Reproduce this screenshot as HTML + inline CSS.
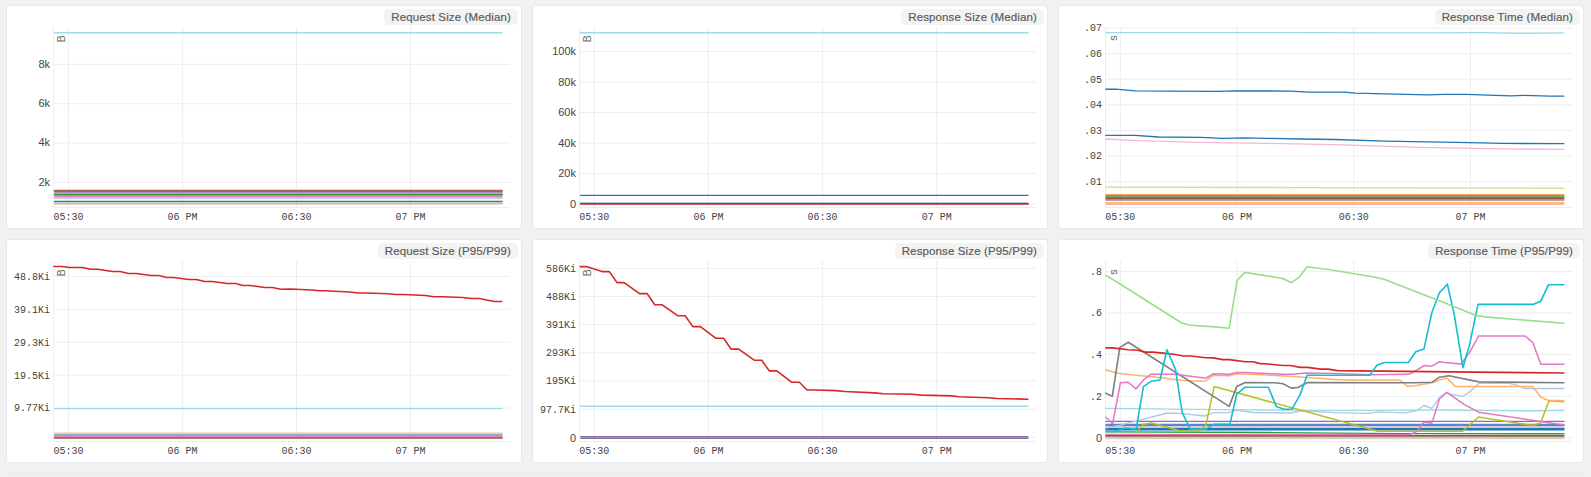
<!DOCTYPE html><html><head><meta charset="utf-8"><style>html,body{margin:0;padding:0;background:#f1f1f1;width:1591px;height:477px;overflow:hidden}.p{position:absolute;box-sizing:border-box;background:#fff;border:1px solid #e4e9f1;border-radius:3px}.t{position:absolute;height:16px;background:#f3f3f3;border-radius:5px;color:#5c5c5c;font:11.5px "Liberation Sans", sans-serif;line-height:16px;letter-spacing:0.13px;-webkit-text-stroke:0.2px #5c5c5c;padding:0 7px 0 7px;white-space:nowrap}svg{position:absolute;left:0;top:0}</style></head><body>
<div class="p" style="left:6px;top:5px;width:516px;height:224px"></div>
<div class="t" style="right:1073px;top:9px">Request Size (Median)</div>
<div class="p" style="left:532px;top:5px;width:516px;height:224px"></div>
<div class="t" style="right:547px;top:9px">Response Size (Median)</div>
<div class="p" style="left:1058px;top:5px;width:526px;height:224px"></div>
<div class="t" style="right:11px;top:9px">Response Time (Median)</div>
<div class="p" style="left:6px;top:239px;width:516px;height:224px"></div>
<div class="t" style="right:1073px;top:243px">Request Size (P95/P99)</div>
<div class="p" style="left:532px;top:239px;width:516px;height:224px"></div>
<div class="t" style="right:547px;top:243px">Response Size (P95/P99)</div>
<div class="p" style="left:1058px;top:239px;width:526px;height:224px"></div>
<div class="t" style="right:11px;top:243px">Response Time (P95/P99)</div>
<svg width="1591" height="477" viewBox="0 0 1591 477"><g stroke="#ededed" stroke-width="1"><line x1="53.5" y1="64.4" x2="510.0" y2="64.4"/><line x1="53.5" y1="103.7" x2="510.0" y2="103.7"/><line x1="53.5" y1="143.0" x2="510.0" y2="143.0"/><line x1="53.5" y1="182.4" x2="510.0" y2="182.4"/><line x1="53.5" y1="207.5" x2="510.0" y2="207.5"/><line x1="53.5" y1="27.0" x2="53.5" y2="207.5"/><line x1="68.6" y1="27.0" x2="68.6" y2="207.5"/><line x1="182.6" y1="27.0" x2="182.6" y2="207.5"/><line x1="296.5" y1="27.0" x2="296.5" y2="207.5"/><line x1="410.5" y1="27.0" x2="410.5" y2="207.5"/></g><text x="50.0" y="63.8" text-anchor="end" font-family='"Liberation Sans", sans-serif' font-size="11" fill="#444" dominant-baseline="central">8k</text><text x="50.0" y="103.1" text-anchor="end" font-family='"Liberation Sans", sans-serif' font-size="11" fill="#444" dominant-baseline="central">6k</text><text x="50.0" y="142.4" text-anchor="end" font-family='"Liberation Sans", sans-serif' font-size="11" fill="#444" dominant-baseline="central">4k</text><text x="50.0" y="181.8" text-anchor="end" font-family='"Liberation Sans", sans-serif' font-size="11" fill="#444" dominant-baseline="central">2k</text><text x="68.6" y="220.0" text-anchor="middle" font-family='"Liberation Mono", monospace' font-size="10" fill="#444">05:30</text><text x="182.6" y="220.0" text-anchor="middle" font-family='"Liberation Mono", monospace' font-size="10" fill="#444">06 PM</text><text x="296.5" y="220.0" text-anchor="middle" font-family='"Liberation Mono", monospace' font-size="10" fill="#444">06:30</text><text x="410.5" y="220.0" text-anchor="middle" font-family='"Liberation Mono", monospace' font-size="10" fill="#444">07 PM</text><polyline fill="none" stroke="#9edae5" stroke-width="1.44" stroke-linejoin="round" stroke-linecap="round" points="54.7,32.8 502.0,32.8"/><polyline fill="none" stroke="#a0665a" stroke-width="2.07" stroke-linejoin="round" stroke-linecap="round" points="54.7,190.9 502.0,190.9"/><polyline fill="none" stroke="#9467bd" stroke-width="1.44" stroke-linejoin="round" stroke-linecap="round" points="54.7,192.9 502.0,192.9"/><polyline fill="none" stroke="#2ca02c" stroke-width="1.89" stroke-linejoin="round" stroke-linecap="round" points="54.7,194.8 502.0,194.8"/><polyline fill="none" stroke="#e88acb" stroke-width="1.08" stroke-linejoin="round" stroke-linecap="round" points="54.7,196.4 502.0,196.4"/><polyline fill="none" stroke="#bdbdbd" stroke-width="1.17" stroke-linejoin="round" stroke-linecap="round" points="54.7,197.6 502.0,197.6"/><polyline fill="none" stroke="#cbbde0" stroke-width="0.81" stroke-linejoin="round" stroke-linecap="round" points="54.7,198.7 502.0,198.7"/><polyline fill="none" stroke="#1f77b4" stroke-width="1.53" stroke-linejoin="round" stroke-linecap="round" points="54.7,201.5 502.0,201.5"/><polyline fill="none" stroke="#d5b893" stroke-width="1.89" stroke-linejoin="round" stroke-linecap="round" points="54.7,203.6 502.0,203.6"/><text x="0" y="0" transform="translate(65.1,35.2) rotate(-90)" text-anchor="end" font-family='"Liberation Sans", sans-serif' font-size="11" fill="#6a6a6a">B</text><g stroke="#ededed" stroke-width="1"><line x1="579.5" y1="51.6" x2="1036.0" y2="51.6"/><line x1="579.5" y1="82.1" x2="1036.0" y2="82.1"/><line x1="579.5" y1="112.6" x2="1036.0" y2="112.6"/><line x1="579.5" y1="143.1" x2="1036.0" y2="143.1"/><line x1="579.5" y1="173.6" x2="1036.0" y2="173.6"/><line x1="579.5" y1="204.1" x2="1036.0" y2="204.1"/><line x1="579.5" y1="207.5" x2="1036.0" y2="207.5"/><line x1="579.5" y1="27.0" x2="579.5" y2="207.5"/><line x1="594.3" y1="27.0" x2="594.3" y2="207.5"/><line x1="708.4" y1="27.0" x2="708.4" y2="207.5"/><line x1="822.6" y1="27.0" x2="822.6" y2="207.5"/><line x1="936.7" y1="27.0" x2="936.7" y2="207.5"/></g><text x="576.0" y="51.0" text-anchor="end" font-family='"Liberation Sans", sans-serif' font-size="11" fill="#444" dominant-baseline="central">100k</text><text x="576.0" y="81.5" text-anchor="end" font-family='"Liberation Sans", sans-serif' font-size="11" fill="#444" dominant-baseline="central">80k</text><text x="576.0" y="112.0" text-anchor="end" font-family='"Liberation Sans", sans-serif' font-size="11" fill="#444" dominant-baseline="central">60k</text><text x="576.0" y="142.5" text-anchor="end" font-family='"Liberation Sans", sans-serif' font-size="11" fill="#444" dominant-baseline="central">40k</text><text x="576.0" y="173.0" text-anchor="end" font-family='"Liberation Sans", sans-serif' font-size="11" fill="#444" dominant-baseline="central">20k</text><text x="576.0" y="203.5" text-anchor="end" font-family='"Liberation Sans", sans-serif' font-size="11" fill="#444" dominant-baseline="central">0</text><text x="594.3" y="220.0" text-anchor="middle" font-family='"Liberation Mono", monospace' font-size="10" fill="#444">05:30</text><text x="708.4" y="220.0" text-anchor="middle" font-family='"Liberation Mono", monospace' font-size="10" fill="#444">06 PM</text><text x="822.6" y="220.0" text-anchor="middle" font-family='"Liberation Mono", monospace' font-size="10" fill="#444">06:30</text><text x="936.7" y="220.0" text-anchor="middle" font-family='"Liberation Mono", monospace' font-size="10" fill="#444">07 PM</text><polyline fill="none" stroke="#9edae5" stroke-width="1.44" stroke-linejoin="round" stroke-linecap="round" points="580.7,32.8 1028.0,32.8"/><polyline fill="none" stroke="#1f77b4" stroke-width="1.44" stroke-linejoin="round" stroke-linecap="round" points="580.7,195.4 1028.0,195.4"/><polyline fill="none" stroke="#aec7e8" stroke-width="1.08" stroke-linejoin="round" stroke-linecap="round" points="580.7,202.6 1028.0,202.6"/><polyline fill="none" stroke="#c62a2a" stroke-width="1.8" stroke-linejoin="round" stroke-linecap="round" points="580.7,203.9 1028.0,203.9"/><text x="0" y="0" transform="translate(591.1,35.2) rotate(-90)" text-anchor="end" font-family='"Liberation Sans", sans-serif' font-size="11" fill="#6a6a6a">B</text><g stroke="#ededed" stroke-width="1"><line x1="1105.5" y1="28.0" x2="1572.0" y2="28.0"/><line x1="1105.5" y1="53.6" x2="1572.0" y2="53.6"/><line x1="1105.5" y1="79.2" x2="1572.0" y2="79.2"/><line x1="1105.5" y1="104.8" x2="1572.0" y2="104.8"/><line x1="1105.5" y1="130.4" x2="1572.0" y2="130.4"/><line x1="1105.5" y1="156.0" x2="1572.0" y2="156.0"/><line x1="1105.5" y1="181.6" x2="1572.0" y2="181.6"/><line x1="1105.5" y1="207.5" x2="1572.0" y2="207.5"/><line x1="1105.5" y1="27.0" x2="1105.5" y2="207.5"/><line x1="1120.3" y1="27.0" x2="1120.3" y2="207.5"/><line x1="1237.0" y1="27.0" x2="1237.0" y2="207.5"/><line x1="1353.8" y1="27.0" x2="1353.8" y2="207.5"/><line x1="1470.5" y1="27.0" x2="1470.5" y2="207.5"/></g><text x="1102.0" y="28.9" text-anchor="end" font-family='"Liberation Mono", monospace' font-size="10" fill="#444" dominant-baseline="central">.07</text><text x="1102.0" y="54.5" text-anchor="end" font-family='"Liberation Mono", monospace' font-size="10" fill="#444" dominant-baseline="central">.06</text><text x="1102.0" y="80.1" text-anchor="end" font-family='"Liberation Mono", monospace' font-size="10" fill="#444" dominant-baseline="central">.05</text><text x="1102.0" y="105.7" text-anchor="end" font-family='"Liberation Mono", monospace' font-size="10" fill="#444" dominant-baseline="central">.04</text><text x="1102.0" y="131.3" text-anchor="end" font-family='"Liberation Mono", monospace' font-size="10" fill="#444" dominant-baseline="central">.03</text><text x="1102.0" y="156.9" text-anchor="end" font-family='"Liberation Mono", monospace' font-size="10" fill="#444" dominant-baseline="central">.02</text><text x="1102.0" y="182.5" text-anchor="end" font-family='"Liberation Mono", monospace' font-size="10" fill="#444" dominant-baseline="central">.01</text><text x="1120.3" y="220.0" text-anchor="middle" font-family='"Liberation Mono", monospace' font-size="10" fill="#444">05:30</text><text x="1237.0" y="220.0" text-anchor="middle" font-family='"Liberation Mono", monospace' font-size="10" fill="#444">06 PM</text><text x="1353.8" y="220.0" text-anchor="middle" font-family='"Liberation Mono", monospace' font-size="10" fill="#444">06:30</text><text x="1470.5" y="220.0" text-anchor="middle" font-family='"Liberation Mono", monospace' font-size="10" fill="#444">07 PM</text><polyline fill="none" stroke="#9edae5" stroke-width="1.44" stroke-linejoin="round" stroke-linecap="round" points="1106.0,32.6 1300.0,32.6 1420.0,32.9 1480.0,32.6 1520.0,33.2 1563.9,32.9"/><polyline fill="none" stroke="#dbdb8d" stroke-width="1.35" stroke-linejoin="round" stroke-linecap="round" points="1106.0,187.1 1300.0,187.6 1563.9,188.2"/><polyline fill="none" stroke="#ff7f0e" stroke-width="1.44" stroke-linejoin="round" stroke-linecap="round" points="1106.0,195.0 1563.9,195.0"/><polyline fill="none" stroke="#2ca02c" stroke-width="1.17" stroke-linejoin="round" stroke-linecap="round" points="1106.0,196.2 1563.9,196.2"/><polyline fill="none" stroke="#9467bd" stroke-width="1.08" stroke-linejoin="round" stroke-linecap="round" points="1106.0,197.4 1563.9,197.4"/><polyline fill="none" stroke="#8c564b" stroke-width="1.44" stroke-linejoin="round" stroke-linecap="round" points="1106.0,198.6 1563.9,198.6"/><polyline fill="none" stroke="#a0766c" stroke-width="1.26" stroke-linejoin="round" stroke-linecap="round" points="1106.0,199.8 1563.9,199.8"/><polyline fill="none" stroke="#c49c94" stroke-width="0.9" stroke-linejoin="round" stroke-linecap="round" points="1106.0,200.6 1563.9,200.6"/><polyline fill="none" stroke="#ffbb78" stroke-width="1.35" stroke-linejoin="round" stroke-linecap="round" points="1106.0,202.6 1563.9,202.6"/><polyline fill="none" stroke="#ffa07a" stroke-width="1.35" stroke-linejoin="round" stroke-linecap="round" points="1106.0,204.0 1563.9,204.0"/><polyline fill="none" stroke="#1f77b4" stroke-width="1.35" stroke-linejoin="round" stroke-linecap="round" points="1105.9,89.2 1115.9,89.2 1135.2,90.9 1170.4,91.1 1217.4,91.4 1234.2,90.9 1291.2,91.1 1308.0,92.1 1345.1,92.1 1355.1,93.1 1385.3,93.8 1427.2,94.8 1444.0,94.4 1465.8,94.4 1511.1,95.8 1524.5,95.4 1549.7,96.1 1563.9,96.1"/><polyline fill="none" stroke="#1f77b4" stroke-width="1.35" stroke-linejoin="round" stroke-linecap="round" points="1105.9,135.3 1135.2,135.3 1158.7,137.0 1200.6,137.4 1222.4,138.4 1242.6,137.9 1267.7,138.4 1301.3,139.0 1335.0,139.5 1385.3,141.2 1469.2,142.7 1502.7,143.4 1563.9,143.7"/><polyline fill="none" stroke="#f7b6d2" stroke-width="1.35" stroke-linejoin="round" stroke-linecap="round" points="1105.9,139.0 1136.9,140.7 1200.6,142.4 1267.7,143.4 1335.0,144.6 1418.9,147.4 1502.7,148.8 1563.9,149.4"/><text x="0" y="0" transform="translate(1117.1,35.2) rotate(-90)" text-anchor="end" font-family='"Liberation Sans", sans-serif' font-size="11" fill="#6a6a6a">s</text><g stroke="#ededed" stroke-width="1"><line x1="53.5" y1="276.4" x2="510.0" y2="276.4"/><line x1="53.5" y1="309.3" x2="510.0" y2="309.3"/><line x1="53.5" y1="342.2" x2="510.0" y2="342.2"/><line x1="53.5" y1="375.1" x2="510.0" y2="375.1"/><line x1="53.5" y1="408.0" x2="510.0" y2="408.0"/><line x1="53.5" y1="441.5" x2="510.0" y2="441.5"/><line x1="53.5" y1="261.0" x2="53.5" y2="441.5"/><line x1="68.6" y1="261.0" x2="68.6" y2="441.5"/><line x1="182.6" y1="261.0" x2="182.6" y2="441.5"/><line x1="296.5" y1="261.0" x2="296.5" y2="441.5"/><line x1="410.5" y1="261.0" x2="410.5" y2="441.5"/></g><text x="50.0" y="277.3" text-anchor="end" font-family='"Liberation Mono", monospace' font-size="10" fill="#444" dominant-baseline="central">48.8Ki</text><text x="50.0" y="310.2" text-anchor="end" font-family='"Liberation Mono", monospace' font-size="10" fill="#444" dominant-baseline="central">39.1Ki</text><text x="50.0" y="343.1" text-anchor="end" font-family='"Liberation Mono", monospace' font-size="10" fill="#444" dominant-baseline="central">29.3Ki</text><text x="50.0" y="376.0" text-anchor="end" font-family='"Liberation Mono", monospace' font-size="10" fill="#444" dominant-baseline="central">19.5Ki</text><text x="50.0" y="408.9" text-anchor="end" font-family='"Liberation Mono", monospace' font-size="10" fill="#444" dominant-baseline="central">9.77Ki</text><text x="68.6" y="454.0" text-anchor="middle" font-family='"Liberation Mono", monospace' font-size="10" fill="#444">05:30</text><text x="182.6" y="454.0" text-anchor="middle" font-family='"Liberation Mono", monospace' font-size="10" fill="#444">06 PM</text><text x="296.5" y="454.0" text-anchor="middle" font-family='"Liberation Mono", monospace' font-size="10" fill="#444">06:30</text><text x="410.5" y="454.0" text-anchor="middle" font-family='"Liberation Mono", monospace' font-size="10" fill="#444">07 PM</text><polyline fill="none" stroke="#9edae5" stroke-width="1.44" stroke-linejoin="round" stroke-linecap="round" points="54.7,408.6 502.0,408.6"/><polyline fill="none" stroke="#ffc2a0" stroke-width="1.44" stroke-linejoin="round" stroke-linecap="round" points="54.7,433.3 502.0,433.3"/><polyline fill="none" stroke="#7fb3c8" stroke-width="1.35" stroke-linejoin="round" stroke-linecap="round" points="54.7,434.7 502.0,434.7"/><polyline fill="none" stroke="#b8a78a" stroke-width="0.9" stroke-linejoin="round" stroke-linecap="round" points="54.7,435.5 502.0,435.5"/><polyline fill="none" stroke="#e377c2" stroke-width="1.35" stroke-linejoin="round" stroke-linecap="round" points="54.7,436.4 502.0,436.4"/><polyline fill="none" stroke="#8e4a2c" stroke-width="1.71" stroke-linejoin="round" stroke-linecap="round" points="54.7,438.0 502.0,438.0"/><polyline fill="none" stroke="#d62728" stroke-width="1.53" stroke-linejoin="round" stroke-linecap="round" points="53.8,266.6 62.1,266.6 69.6,267.4 82.4,267.4 90.7,269.3 97.5,269.3 112.6,271.6 120.1,271.6 128.4,273.4 136.0,273.4 151.0,275.6 158.6,275.6 166.9,277.5 173.7,277.5 188.8,279.6 196.3,279.6 204.6,281.4 212.1,281.4 227.2,283.6 235.5,283.6 243.1,285.4 249.8,285.4 264.9,287.6 272.5,287.6 280.8,289.2 290.6,288.9 311.7,289.9 319.2,290.8 325.2,290.8 349.4,292.0 358.4,293.1 366.0,293.1 388.6,293.8 396.1,294.6 403.7,294.6 425.5,295.6 433.8,296.7 442.9,296.7 462.5,297.5 471.5,298.4 479.1,298.4 494.2,301.4 501.7,301.4"/><text x="0" y="0" transform="translate(65.1,269.2) rotate(-90)" text-anchor="end" font-family='"Liberation Sans", sans-serif' font-size="11" fill="#6a6a6a">B</text><g stroke="#ededed" stroke-width="1"><line x1="579.5" y1="268.3" x2="1036.0" y2="268.3"/><line x1="579.5" y1="296.5" x2="1036.0" y2="296.5"/><line x1="579.5" y1="324.6" x2="1036.0" y2="324.6"/><line x1="579.5" y1="352.8" x2="1036.0" y2="352.8"/><line x1="579.5" y1="381.0" x2="1036.0" y2="381.0"/><line x1="579.5" y1="409.2" x2="1036.0" y2="409.2"/><line x1="579.5" y1="437.3" x2="1036.0" y2="437.3"/><line x1="579.5" y1="441.5" x2="1036.0" y2="441.5"/><line x1="579.5" y1="261.0" x2="579.5" y2="441.5"/><line x1="594.3" y1="261.0" x2="594.3" y2="441.5"/><line x1="708.4" y1="261.0" x2="708.4" y2="441.5"/><line x1="822.6" y1="261.0" x2="822.6" y2="441.5"/><line x1="936.7" y1="261.0" x2="936.7" y2="441.5"/></g><text x="576.0" y="269.2" text-anchor="end" font-family='"Liberation Mono", monospace' font-size="10" fill="#444" dominant-baseline="central">586Ki</text><text x="576.0" y="297.4" text-anchor="end" font-family='"Liberation Mono", monospace' font-size="10" fill="#444" dominant-baseline="central">488Ki</text><text x="576.0" y="325.5" text-anchor="end" font-family='"Liberation Mono", monospace' font-size="10" fill="#444" dominant-baseline="central">391Ki</text><text x="576.0" y="353.7" text-anchor="end" font-family='"Liberation Mono", monospace' font-size="10" fill="#444" dominant-baseline="central">293Ki</text><text x="576.0" y="381.9" text-anchor="end" font-family='"Liberation Mono", monospace' font-size="10" fill="#444" dominant-baseline="central">195Ki</text><text x="576.0" y="410.1" text-anchor="end" font-family='"Liberation Mono", monospace' font-size="10" fill="#444" dominant-baseline="central">97.7Ki</text><text x="576.0" y="437.9" text-anchor="end" font-family='"Liberation Sans", sans-serif' font-size="11" fill="#444" dominant-baseline="central">0</text><text x="594.3" y="454.0" text-anchor="middle" font-family='"Liberation Mono", monospace' font-size="10" fill="#444">05:30</text><text x="708.4" y="454.0" text-anchor="middle" font-family='"Liberation Mono", monospace' font-size="10" fill="#444">06 PM</text><text x="822.6" y="454.0" text-anchor="middle" font-family='"Liberation Mono", monospace' font-size="10" fill="#444">06:30</text><text x="936.7" y="454.0" text-anchor="middle" font-family='"Liberation Mono", monospace' font-size="10" fill="#444">07 PM</text><polyline fill="none" stroke="#9edae5" stroke-width="1.44" stroke-linejoin="round" stroke-linecap="round" points="580.7,406.2 1028.0,406.2"/><polyline fill="none" stroke="#9467bd" stroke-width="0.99" stroke-linejoin="round" stroke-linecap="round" points="580.7,436.5 1028.0,436.5"/><polyline fill="none" stroke="#8ca252" stroke-width="0.99" stroke-linejoin="round" stroke-linecap="round" points="580.7,437.5 1028.0,437.5"/><polyline fill="none" stroke="#7f7f7f" stroke-width="0.99" stroke-linejoin="round" stroke-linecap="round" points="580.7,438.5 1028.0,438.5"/><polyline fill="none" stroke="#d62728" stroke-width="1.62" stroke-linejoin="round" stroke-linecap="round" points="580.3,266.6 586.3,266.6 602.2,271.6 609.4,271.6 617.0,282.6 624.1,282.6 639.6,293.6 647.2,293.6 654.7,304.8 662.2,304.8 677.6,315.7 685.2,315.7 692.8,326.6 700.4,326.6 716.0,338.3 723.6,338.3 731.1,349.1 738.7,349.1 754.2,360.2 761.7,360.2 769.2,370.9 776.8,370.9 791.9,382.3 799.4,382.3 807.0,390.0 815.6,390.0 835.9,390.6 844.4,391.5 874.8,392.9 883.4,393.7 912.2,394.2 921.6,395.1 952.0,395.9 959.0,396.8 988.6,397.7 997.2,398.5 1027.9,399.2"/><text x="0" y="0" transform="translate(591.1,269.2) rotate(-90)" text-anchor="end" font-family='"Liberation Sans", sans-serif' font-size="11" fill="#6a6a6a">B</text><g stroke="#ededed" stroke-width="1"><line x1="1105.5" y1="271.3" x2="1572.0" y2="271.3"/><line x1="1105.5" y1="313.0" x2="1572.0" y2="313.0"/><line x1="1105.5" y1="354.6" x2="1572.0" y2="354.6"/><line x1="1105.5" y1="396.3" x2="1572.0" y2="396.3"/><line x1="1105.5" y1="437.9" x2="1572.0" y2="437.9"/><line x1="1105.5" y1="441.5" x2="1572.0" y2="441.5"/><line x1="1105.5" y1="261.0" x2="1105.5" y2="441.5"/><line x1="1120.3" y1="261.0" x2="1120.3" y2="441.5"/><line x1="1237.0" y1="261.0" x2="1237.0" y2="441.5"/><line x1="1353.8" y1="261.0" x2="1353.8" y2="441.5"/><line x1="1470.5" y1="261.0" x2="1470.5" y2="441.5"/></g><text x="1102.0" y="272.2" text-anchor="end" font-family='"Liberation Mono", monospace' font-size="10" fill="#444" dominant-baseline="central">.8</text><text x="1102.0" y="313.9" text-anchor="end" font-family='"Liberation Mono", monospace' font-size="10" fill="#444" dominant-baseline="central">.6</text><text x="1102.0" y="355.5" text-anchor="end" font-family='"Liberation Mono", monospace' font-size="10" fill="#444" dominant-baseline="central">.4</text><text x="1102.0" y="397.2" text-anchor="end" font-family='"Liberation Mono", monospace' font-size="10" fill="#444" dominant-baseline="central">.2</text><text x="1102.0" y="438.3" text-anchor="end" font-family='"Liberation Sans", sans-serif' font-size="11" fill="#444" dominant-baseline="central">0</text><text x="1120.3" y="454.0" text-anchor="middle" font-family='"Liberation Mono", monospace' font-size="10" fill="#444">05:30</text><text x="1237.0" y="454.0" text-anchor="middle" font-family='"Liberation Mono", monospace' font-size="10" fill="#444">06 PM</text><text x="1353.8" y="454.0" text-anchor="middle" font-family='"Liberation Mono", monospace' font-size="10" fill="#444">06:30</text><text x="1470.5" y="454.0" text-anchor="middle" font-family='"Liberation Mono", monospace' font-size="10" fill="#444">07 PM</text><polyline fill="none" stroke="#9467bd" stroke-width="1.44" stroke-linejoin="round" stroke-linecap="round" points="1106.0,421.4 1563.9,421.4"/><polyline fill="none" stroke="#4a90c8" stroke-width="1.17" stroke-linejoin="round" stroke-linecap="round" points="1106.0,424.4 1563.9,424.4"/><polyline fill="none" stroke="#8e6cbf" stroke-width="1.26" stroke-linejoin="round" stroke-linecap="round" points="1106.0,425.5 1563.9,425.5"/><polyline fill="none" stroke="#d5c6e3" stroke-width="1.08" stroke-linejoin="round" stroke-linecap="round" points="1106.0,426.8 1563.9,426.8"/><polyline fill="none" stroke="#1f77b4" stroke-width="1.53" stroke-linejoin="round" stroke-linecap="round" points="1106.0,428.4 1563.9,428.4"/><polyline fill="none" stroke="#1f77b4" stroke-width="1.53" stroke-linejoin="round" stroke-linecap="round" points="1106.0,429.8 1563.9,429.8"/><polyline fill="none" stroke="#8c564b" stroke-width="1.8" stroke-linejoin="round" stroke-linecap="round" points="1106.0,435.8 1563.9,435.8"/><polyline fill="none" stroke="#c7c7c7" stroke-width="1.35" stroke-linejoin="round" stroke-linecap="round" points="1106.0,437.6 1563.9,437.6"/><polyline fill="none" stroke="#dcc0ae" stroke-width="0.9" stroke-linejoin="round" stroke-linecap="round" points="1106.0,438.7 1563.9,438.7"/><polyline fill="none" stroke="#2ca02c" stroke-width="1.44" stroke-linejoin="round" stroke-linecap="round" points="1106.0,431.9 1275.0,432.6 1400.0,433.6 1563.9,433.8"/><polyline fill="none" stroke="#9edae5" stroke-width="1.44" stroke-linejoin="round" stroke-linecap="round" points="1106.0,408.4 1220.0,409.6 1335.0,410.4 1445.0,410.0 1537.5,410.8 1563.9,410.2"/><polyline fill="none" stroke="#aec7e8" stroke-width="1.35" stroke-linejoin="round" stroke-linecap="round" points="1106.0,428.0 1118.9,425.4 1141.9,419.6 1167.1,413.0 1179.6,413.3 1204.8,416.0 1213.2,412.6 1228.9,412.6 1236.7,410.2 1252.7,412.5 1290.5,413.0 1301.8,410.8 1335.0,412.6 1370.5,413.3 1376.8,411.8 1406.1,412.8 1416.6,410.7 1423.9,405.5 1431.8,408.4 1439.6,397.6 1445.0,393.2 1462.9,396.4 1470.5,391.3 1478.6,383.4 1509.2,383.4 1516.7,385.1 1525.2,388.5 1563.9,388.5"/><polyline fill="none" stroke="#bcbd22" stroke-width="1.53" stroke-linejoin="round" stroke-linecap="round" points="1136.2,432.7 1143.0,424.6 1151.3,423.1 1181.7,431.2 1198.5,431.2 1205.8,425.4 1214.2,386.6 1377.8,431.2 1462.7,431.2 1478.6,417.0 1532.2,425.4 1540.6,423.1 1549.0,400.8 1563.9,401.8"/><polyline fill="none" stroke="#e377c2" stroke-width="1.44" stroke-linejoin="round" stroke-linecap="round" points="1106.0,434.4 1409.3,434.6 1416.6,431.7 1423.9,422.0 1431.8,423.3 1439.6,398.7 1447.0,392.3 1464.1,404.4 1478.6,412.2 1549.0,422.8 1563.9,424.9"/><polyline fill="none" stroke="#ffb16b" stroke-width="1.53" stroke-linejoin="round" stroke-linecap="round" points="1106.0,370.0 1118.9,373.4 1156.6,377.2 1181.1,380.2 1198.1,381.3 1205.7,380.9 1213.2,375.3 1229.2,375.7 1236.7,373.8 1252.7,374.3 1290.5,376.2 1335.0,379.4 1348.9,380.0 1399.8,380.0 1407.4,386.2 1414.9,385.7 1431.9,382.8 1439.4,380.0 1447.0,378.1 1455.4,386.6 1532.7,386.6 1540.8,397.0 1547.8,400.2 1563.9,400.8"/><polyline fill="none" stroke="#7f7f7f" stroke-width="1.62" stroke-linejoin="round" stroke-linecap="round" points="1106.0,393.2 1112.3,396.4 1119.8,347.4 1128.3,342.3 1229.2,406.4 1236.7,386.6 1245.2,382.5 1275.4,382.8 1282.9,383.8 1291.4,388.1 1298.0,387.5 1307.5,382.5 1414.9,382.8 1431.9,382.3 1439.4,377.2 1448.8,375.8 1479.0,381.9 1563.9,382.8"/><polyline fill="none" stroke="#e377c2" stroke-width="1.53" stroke-linejoin="round" stroke-linecap="round" points="1106.0,417.2 1112.6,423.8 1120.4,382.8 1128.3,382.3 1135.8,388.9 1143.4,380.0 1150.9,374.3 1175.5,374.3 1198.1,377.2 1205.7,378.1 1213.2,373.8 1229.2,374.3 1236.7,372.5 1245.2,372.5 1282.9,374.3 1292.4,374.3 1305.6,373.0 1335.0,373.4 1367.7,374.7 1409.2,374.3 1416.8,370.2 1424.3,365.5 1431.9,366.2 1439.4,361.7 1445.0,362.5 1461.0,364.0 1469.5,352.6 1478.6,336.0 1525.2,336.0 1532.7,342.3 1540.8,364.3 1563.9,364.3"/><polyline fill="none" stroke="#d62728" stroke-width="1.62" stroke-linejoin="round" stroke-linecap="round" points="1106.0,347.9 1112.3,347.9 1128.3,349.8 1137.7,350.2 1145.3,352.1 1152.8,352.1 1167.9,353.6 1175.5,354.5 1183.0,356.0 1190.6,356.0 1205.7,357.7 1213.2,357.9 1222.5,359.6 1229.2,359.6 1245.2,361.7 1252.7,361.7 1260.3,363.6 1267.8,364.0 1282.9,365.5 1290.5,365.5 1299.9,367.4 1307.5,367.4 1320.7,369.1 1328.2,369.1 1337.5,370.6 1450.0,371.9 1563.9,373.0"/><polyline fill="none" stroke="#17becf" stroke-width="1.62" stroke-linejoin="round" stroke-linecap="round" points="1106.3,431.2 1113.6,431.7 1125.1,428.0 1136.2,429.1 1143.4,386.6 1150.9,381.3 1160.0,380.0 1167.0,349.8 1175.5,369.6 1182.1,412.1 1190.1,429.1 1205.8,429.1 1214.2,424.3 1229.9,424.3 1236.7,394.2 1245.2,387.2 1268.4,387.2 1276.3,406.4 1283.9,409.2 1292.0,409.2 1299.9,395.1 1307.1,375.3 1369.6,375.3 1377.2,364.9 1384.7,362.5 1408.3,362.5 1415.8,351.7 1424.0,348.9 1431.9,312.5 1439.4,292.7 1447.4,284.2 1454.4,315.4 1462.9,367.7 1469.5,345.1 1478.0,304.4 1532.7,304.4 1540.8,301.2 1548.4,284.8 1563.9,284.8"/><polyline fill="none" stroke="#98df8a" stroke-width="1.62" stroke-linejoin="round" stroke-linecap="round" points="1106.0,275.4 1118.9,283.3 1182.1,323.3 1190.6,325.2 1215.0,326.9 1229.2,328.2 1237.1,280.5 1244.8,272.4 1275.4,277.3 1283.3,278.8 1291.4,282.7 1299.3,277.1 1307.1,266.7 1330.0,269.7 1375.3,277.3 1384.7,279.5 1445.0,303.1 1476.1,315.4 1484.6,316.9 1563.9,323.3"/><text x="0" y="0" transform="translate(1117.1,269.2) rotate(-90)" text-anchor="end" font-family='"Liberation Sans", sans-serif' font-size="11" fill="#6a6a6a">s</text></svg>
<div style="position:absolute;left:7px;top:473px;width:1576px;height:1px;background:#eaeaea"></div>
</body></html>
